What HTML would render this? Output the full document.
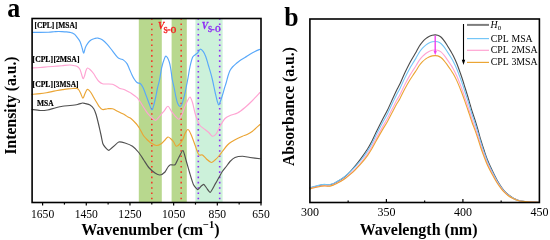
<!DOCTYPE html>
<html><head><meta charset="utf-8"><style>
html,body{margin:0;padding:0;background:#fff;width:550px;height:240px;overflow:hidden}
svg{display:block;font-family:"Liberation Serif",serif;filter:blur(0.35px)}
</style></head><body>
<svg width="550" height="240" viewBox="0 0 550 240">
<rect x="138.8" y="18.5" width="23" height="184" fill="#b8d88e"/>
<rect x="171.6" y="18.5" width="15.2" height="184" fill="#b8d88e"/>
<rect x="195.4" y="18.5" width="27.2" height="184" fill="#ccf1da"/>
<line x1="151.80" y1="18.10" x2="151.80" y2="199.32" stroke="#f23c2c" stroke-width="1.60" stroke-dasharray="1.60 3.683"/>
<line x1="181.20" y1="18.10" x2="181.20" y2="199.32" stroke="#f23c2c" stroke-width="1.60" stroke-dasharray="1.60 3.683"/>
<line x1="198.30" y1="18.10" x2="198.30" y2="199.32" stroke="#8f2cf5" stroke-width="1.60" stroke-dasharray="1.60 3.683"/>
<line x1="219.70" y1="18.10" x2="219.70" y2="199.32" stroke="#8f2cf5" stroke-width="1.60" stroke-dasharray="1.60 3.683"/>
<g fill="none" stroke-width="1.15" stroke-linejoin="round" stroke-linecap="round">
<path d="M32.00,109.50 C32.80,109.60 38.45,110.45 40.00,110.50 C41.55,110.55 46.00,110.25 47.50,110.00 C49.00,109.75 53.50,108.38 55.00,108.00 C56.50,107.62 61.00,106.50 62.50,106.25 C64.00,106.00 68.50,105.67 70.00,105.50 C71.50,105.33 76.25,104.75 77.50,104.50 C78.75,104.25 81.75,103.10 82.50,103.00 C83.25,102.90 84.25,103.30 85.00,103.50 C85.75,103.70 89.12,104.47 90.00,105.00 C90.88,105.53 93.12,107.75 93.75,108.75 C94.38,109.75 95.75,113.38 96.25,115.00 C96.75,116.62 98.28,123.00 98.75,125.00 C99.22,127.00 100.59,133.15 101.00,135.00 C101.41,136.85 102.40,142.30 102.80,143.50 C103.20,144.70 104.41,146.32 105.00,147.00 C105.59,147.68 107.88,150.38 108.75,150.30 C109.62,150.23 112.75,147.08 113.75,146.25 C114.75,145.42 117.62,142.32 118.75,142.00 C119.88,141.68 123.62,142.57 125.00,143.00 C126.38,143.43 131.12,145.30 132.50,146.25 C133.88,147.20 137.62,151.12 138.75,152.50 C139.88,153.88 142.75,158.50 143.75,160.00 C144.75,161.50 147.62,166.20 148.75,167.50 C149.88,168.80 153.88,172.25 155.00,173.00 C156.12,173.75 159.00,175.10 160.00,175.00 C161.00,174.90 164.20,172.80 165.00,172.00 C165.80,171.20 167.45,167.72 168.00,167.00 C168.55,166.28 169.80,165.02 170.50,164.80 C171.20,164.58 174.18,165.53 175.00,164.80 C175.82,164.07 177.95,158.93 178.75,157.50 C179.55,156.07 182.25,150.15 183.00,150.50 C183.75,150.85 185.58,158.75 186.25,161.00 C186.92,163.25 188.98,170.66 189.70,173.00 C190.41,175.34 192.59,182.74 193.40,184.40 C194.21,186.06 196.99,189.41 197.75,189.60 C198.51,189.78 200.40,186.77 201.00,186.25 C201.60,185.73 203.19,184.22 203.75,184.40 C204.31,184.58 205.94,187.21 206.60,188.00 C207.25,188.79 209.46,192.66 210.30,192.30 C211.14,191.94 214.16,185.85 215.00,184.40 C215.84,182.95 218.00,179.12 218.75,177.80 C219.50,176.49 221.75,172.38 222.50,171.25 C223.25,170.12 225.50,167.47 226.25,166.50 C227.00,165.53 229.12,162.40 230.00,161.50 C230.88,160.60 233.75,158.03 235.00,157.50 C236.25,156.97 241.00,156.25 242.50,156.25 C244.00,156.25 248.25,157.25 250.00,157.50 C251.75,157.75 259.00,158.62 260.00,158.75" stroke="#505050" stroke-width="1.15"/>
<path d="M32.00,94.40 C33.33,94.27 37.60,93.88 40.00,93.60 C42.40,93.32 44.40,93.03 46.40,92.70 C48.40,92.37 50.18,91.97 52.00,91.60 C53.82,91.23 55.47,90.83 57.30,90.50 C59.13,90.17 61.18,89.87 63.00,89.60 C64.82,89.33 66.53,89.08 68.20,88.90 C69.87,88.72 71.55,88.58 73.00,88.50 C74.45,88.42 75.98,88.23 76.90,88.40 C77.82,88.57 77.90,88.73 78.50,89.50 C79.10,90.27 79.77,91.55 80.50,93.00 C81.23,94.45 82.18,98.03 82.90,98.20 C83.62,98.37 84.17,95.37 84.80,94.00 C85.43,92.63 86.17,90.75 86.70,90.00 C87.23,89.25 87.37,89.17 88.00,89.50 C88.63,89.83 89.54,90.67 90.50,92.00 C91.46,93.33 92.67,95.67 93.75,97.50 C94.83,99.33 96.12,101.53 97.00,103.00 C97.88,104.47 98.08,105.22 99.00,106.30 C99.92,107.38 101.08,109.09 102.50,109.50 C103.92,109.91 105.83,108.88 107.50,108.75 C109.17,108.62 110.83,108.33 112.50,108.75 C114.17,109.17 116.08,110.54 117.50,111.25 C118.92,111.96 119.75,112.38 121.00,113.00 C122.25,113.62 123.83,114.33 125.00,115.00 C126.17,115.67 126.96,116.38 128.00,117.00 C129.04,117.62 129.88,117.62 131.25,118.75 C132.62,119.88 134.96,122.29 136.25,123.75 C137.54,125.21 138.17,126.21 139.00,127.50 C139.83,128.79 140.46,130.08 141.25,131.50 C142.04,132.92 142.71,134.58 143.75,136.00 C144.79,137.42 146.29,138.83 147.50,140.00 C148.71,141.17 149.54,142.08 151.00,143.00 C152.46,143.92 154.54,145.38 156.25,145.50 C157.96,145.62 159.79,144.67 161.25,143.75 C162.71,142.83 163.88,141.12 165.00,140.00 C166.12,138.88 167.00,137.17 168.00,137.00 C169.00,136.83 170.04,138.17 171.00,139.00 C171.96,139.83 172.88,140.79 173.75,142.00 C174.62,143.21 175.21,145.96 176.25,146.25 C177.29,146.54 178.88,144.96 180.00,143.75 C181.12,142.54 182.17,140.71 183.00,139.00 C183.83,137.29 184.17,135.08 185.00,133.50 C185.83,131.92 186.96,129.25 188.00,129.50 C189.04,129.75 190.08,132.42 191.25,135.00 C192.42,137.58 193.75,141.75 195.00,145.00 C196.25,148.25 197.50,152.83 198.75,154.50 C200.00,156.17 201.25,154.29 202.50,155.00 C203.75,155.71 204.79,157.50 206.25,158.75 C207.71,160.00 209.79,162.29 211.25,162.50 C212.71,162.71 213.75,161.04 215.00,160.00 C216.25,158.96 217.50,157.71 218.75,156.25 C220.00,154.79 221.04,153.12 222.50,151.25 C223.96,149.38 225.83,146.67 227.50,145.00 C229.17,143.33 230.83,142.33 232.50,141.25 C234.17,140.17 235.83,139.33 237.50,138.50 C239.17,137.67 240.92,136.92 242.50,136.25 C244.08,135.58 245.33,135.33 247.00,134.50 C248.67,133.67 250.33,132.92 252.50,131.25 C254.67,129.58 258.75,125.62 260.00,124.50" stroke="#eba534"/>
<path d="M32.00,68.00 C33.33,67.92 37.33,67.70 40.00,67.50 C42.67,67.30 45.50,67.00 48.00,66.80 C50.50,66.60 52.67,66.48 55.00,66.30 C57.33,66.12 59.50,65.92 62.00,65.70 C64.50,65.48 67.83,64.98 70.00,65.00 C72.17,65.02 73.67,65.47 75.00,65.80 C76.33,66.13 77.17,66.38 78.00,67.00 C78.83,67.62 79.42,68.33 80.00,69.50 C80.58,70.67 81.00,72.50 81.50,74.00 C82.00,75.50 82.50,78.17 83.00,78.50 C83.50,78.83 84.00,77.33 84.50,76.00 C85.00,74.67 85.50,71.83 86.00,70.50 C86.50,69.17 86.83,68.17 87.50,68.00 C88.17,67.83 88.96,68.54 90.00,69.50 C91.04,70.46 92.75,72.42 93.75,73.75 C94.75,75.08 95.17,76.25 96.00,77.50 C96.83,78.75 97.67,80.21 98.75,81.25 C99.83,82.29 101.12,83.29 102.50,83.75 C103.88,84.21 105.33,83.91 107.00,84.00 C108.67,84.09 111.00,83.97 112.50,84.30 C114.00,84.63 114.75,85.30 116.00,86.00 C117.25,86.70 118.67,87.92 120.00,88.50 C121.33,89.08 122.67,89.00 124.00,89.50 C125.33,90.00 126.80,90.88 128.00,91.50 C129.20,92.12 130.03,92.45 131.20,93.20 C132.37,93.95 133.87,95.10 135.00,96.00 C136.13,96.90 137.00,97.43 138.00,98.60 C139.00,99.77 139.97,101.38 141.00,103.00 C142.03,104.62 142.98,106.43 144.20,108.30 C145.42,110.17 146.92,112.53 148.30,114.20 C149.68,115.87 151.25,117.28 152.50,118.30 C153.75,119.32 154.55,120.72 155.80,120.30 C157.05,119.88 158.60,117.38 160.00,115.80 C161.40,114.22 162.87,112.38 164.20,110.80 C165.53,109.22 166.75,106.15 168.00,106.30 C169.25,106.45 170.53,110.12 171.70,111.70 C172.87,113.28 173.83,114.55 175.00,115.80 C176.17,117.05 177.58,119.33 178.70,119.20 C179.82,119.07 180.78,116.82 181.70,115.00 C182.62,113.18 183.23,110.67 184.20,108.30 C185.17,105.93 186.53,102.68 187.50,100.80 C188.47,98.92 189.17,96.72 190.00,97.00 C190.83,97.28 191.67,99.83 192.50,102.50 C193.33,105.17 194.17,110.00 195.00,113.00 C195.83,116.00 196.67,118.42 197.50,120.50 C198.33,122.58 198.96,124.15 200.00,125.50 C201.04,126.85 202.29,127.43 203.75,128.60 C205.21,129.77 207.29,131.22 208.75,132.50 C210.21,133.78 211.25,136.04 212.50,136.25 C213.75,136.46 215.00,135.42 216.25,133.75 C217.50,132.08 218.54,128.79 220.00,126.25 C221.46,123.71 223.12,120.38 225.00,118.50 C226.88,116.62 229.17,115.92 231.25,115.00 C233.33,114.08 235.21,114.25 237.50,113.00 C239.79,111.75 242.50,109.58 245.00,107.50 C247.50,105.42 250.00,103.00 252.50,100.50 C255.00,98.00 258.75,93.83 260.00,92.50" stroke="#ffa3d2"/>
<path d="M32.50,32.40 C33.75,32.40 37.35,32.43 40.00,32.40 C42.65,32.37 46.07,32.30 48.40,32.20 C50.73,32.10 52.33,31.92 54.00,31.80 C55.67,31.68 57.07,31.53 58.40,31.50 C59.73,31.47 60.65,31.53 62.00,31.60 C63.35,31.67 65.17,31.77 66.50,31.90 C67.83,32.03 69.08,32.23 70.00,32.40 C70.92,32.57 71.22,32.57 72.00,32.90 C72.78,33.23 73.78,33.58 74.70,34.40 C75.62,35.22 76.58,36.55 77.50,37.80 C78.42,39.05 79.41,40.12 80.20,41.90 C80.99,43.68 81.66,46.63 82.25,48.50 C82.84,50.37 83.22,53.27 83.75,53.10 C84.28,52.93 84.71,49.17 85.40,47.50 C86.09,45.83 86.97,44.35 87.90,43.10 C88.83,41.85 89.86,40.77 91.00,40.00 C92.14,39.23 93.60,38.82 94.75,38.50 C95.90,38.18 96.65,37.89 97.90,38.10 C99.15,38.31 100.69,38.70 102.25,39.75 C103.81,40.80 105.58,42.59 107.25,44.40 C108.92,46.21 110.53,48.43 112.25,50.60 C113.97,52.77 116.18,56.00 117.60,57.40 C119.02,58.80 119.81,58.58 120.75,59.00 C121.69,59.42 122.21,59.13 123.25,59.90 C124.29,60.67 125.96,62.04 127.00,63.60 C128.04,65.16 128.67,67.37 129.50,69.25 C130.33,71.13 131.17,73.19 132.00,74.90 C132.83,76.61 133.67,78.23 134.50,79.50 C135.33,80.77 136.00,81.78 137.00,82.50 C138.00,83.22 139.50,82.97 140.50,83.80 C141.50,84.63 142.25,86.05 143.00,87.50 C143.75,88.95 144.03,89.97 145.00,92.50 C145.97,95.03 147.68,99.83 148.80,102.70 C149.92,105.57 150.92,109.15 151.70,109.70 C152.48,110.25 152.87,107.95 153.50,106.00 C154.13,104.05 154.83,101.00 155.50,98.00 C156.17,95.00 156.82,91.05 157.50,88.00 C158.18,84.95 158.90,83.12 159.60,79.70 C160.30,76.28 160.93,70.92 161.70,67.50 C162.47,64.08 163.45,61.08 164.20,59.20 C164.95,57.32 165.37,55.78 166.20,56.20 C167.03,56.62 168.43,59.53 169.20,61.70 C169.97,63.87 170.28,66.20 170.80,69.20 C171.32,72.20 171.73,76.57 172.30,79.70 C172.87,82.83 173.62,85.23 174.20,88.00 C174.78,90.77 175.25,93.80 175.80,96.30 C176.35,98.80 176.85,101.33 177.50,103.00 C178.15,104.67 179.00,106.02 179.70,106.30 C180.40,106.58 181.10,105.80 181.70,104.70 C182.30,103.60 182.75,101.65 183.30,99.70 C183.85,97.75 184.43,95.50 185.00,93.00 C185.57,90.50 186.20,87.20 186.70,84.70 C187.20,82.20 187.45,81.00 188.00,78.00 C188.55,75.00 189.25,70.12 190.00,66.70 C190.75,63.28 191.67,59.45 192.50,57.50 C193.33,55.55 194.08,55.83 195.00,55.00 C195.92,54.17 197.12,53.47 198.00,52.50 C198.88,51.53 199.42,49.33 200.30,49.20 C201.18,49.07 202.38,50.45 203.30,51.70 C204.22,52.95 204.97,54.48 205.80,56.70 C206.63,58.92 207.47,62.23 208.30,65.00 C209.13,67.77 210.10,70.80 210.80,73.30 C211.50,75.80 211.97,77.72 212.50,80.00 C213.03,82.28 213.50,84.67 214.00,87.00 C214.50,89.33 214.97,91.67 215.50,94.00 C216.03,96.33 216.66,99.17 217.20,101.00 C217.74,102.83 218.20,105.00 218.75,105.00 C219.30,105.00 219.88,102.67 220.50,101.00 C221.12,99.33 221.83,97.17 222.50,95.00 C223.17,92.83 223.88,90.08 224.50,88.00 C225.12,85.92 225.67,84.50 226.25,82.50 C226.83,80.50 227.38,78.00 228.00,76.00 C228.62,74.00 229.25,72.00 230.00,70.50 C230.75,69.00 231.46,68.17 232.50,67.00 C233.54,65.83 235.00,64.58 236.25,63.50 C237.50,62.42 238.54,61.50 240.00,60.50 C241.46,59.50 243.33,58.54 245.00,57.50 C246.67,56.46 248.33,55.25 250.00,54.25 C251.67,53.25 253.33,52.33 255.00,51.50 C256.67,50.67 259.17,49.62 260.00,49.25" stroke="#58a8fa"/>
</g>
<rect x="32.1" y="18.5" width="228.9" height="184" fill="none" stroke="#000" stroke-width="1.6"/>
<line x1="261.00" y1="202.5" x2="261.00" y2="205.60" stroke="#000" stroke-width="1.2"/><line x1="239.16" y1="202.5" x2="239.16" y2="204.60" stroke="#000" stroke-width="1.2"/><line x1="217.32" y1="202.5" x2="217.32" y2="205.60" stroke="#000" stroke-width="1.2"/><line x1="195.48" y1="202.5" x2="195.48" y2="204.60" stroke="#000" stroke-width="1.2"/><line x1="173.64" y1="202.5" x2="173.64" y2="205.60" stroke="#000" stroke-width="1.2"/><line x1="151.80" y1="202.5" x2="151.80" y2="204.60" stroke="#000" stroke-width="1.2"/><line x1="129.96" y1="202.5" x2="129.96" y2="205.60" stroke="#000" stroke-width="1.2"/><line x1="108.12" y1="202.5" x2="108.12" y2="204.60" stroke="#000" stroke-width="1.2"/><line x1="86.28" y1="202.5" x2="86.28" y2="205.60" stroke="#000" stroke-width="1.2"/><line x1="64.44" y1="202.5" x2="64.44" y2="204.60" stroke="#000" stroke-width="1.2"/><line x1="42.60" y1="202.5" x2="42.60" y2="205.60" stroke="#000" stroke-width="1.2"/>
<g font-family="Liberation Serif" font-size="11.6" fill="#000"><text x="42.60" y="217.6" text-anchor="middle">1650</text><text x="86.28" y="217.6" text-anchor="middle">1450</text><text x="129.96" y="217.6" text-anchor="middle">1250</text><text x="173.64" y="217.6" text-anchor="middle">1050</text><text x="217.32" y="217.6" text-anchor="middle">850</text><text x="261.00" y="217.6" text-anchor="middle">650</text></g>
<g fill="none" stroke-width="1.1" stroke-linejoin="round" stroke-linecap="round">
<path d="M310.00,187.90 C310.67,187.71 312.25,187.20 314.00,186.75 C315.75,186.30 318.79,185.56 320.50,185.21 C322.21,184.86 323.00,184.67 324.25,184.63 C325.50,184.60 326.75,185.07 328.00,185.02 C329.25,184.97 330.50,184.75 331.75,184.35 C333.00,183.95 334.04,183.37 335.50,182.62 C336.96,181.86 338.83,180.91 340.50,179.83 C342.17,178.75 343.83,177.57 345.50,176.14 C347.17,174.71 348.92,172.91 350.50,171.26 C352.08,169.60 353.21,168.41 355.00,166.22 C356.79,164.03 359.17,160.96 361.25,158.09 C363.33,155.22 365.71,151.85 367.50,149.00 C369.29,146.15 370.42,144.08 372.00,141.00 C373.58,137.92 375.33,133.92 377.00,130.50 C378.67,127.08 380.25,123.92 382.00,120.50 C383.75,117.08 385.67,113.75 387.50,110.00 C389.33,106.25 391.50,101.25 393.00,98.00 C394.50,94.75 395.33,92.88 396.50,90.50 C397.67,88.12 398.58,86.75 400.00,83.75 C401.42,80.75 403.33,76.04 405.00,72.50 C406.67,68.96 408.67,65.03 410.00,62.50 C411.33,59.97 412.00,59.02 413.00,57.30 C414.00,55.58 414.96,54.04 416.00,52.20 C417.04,50.36 418.17,47.97 419.25,46.25 C420.33,44.53 421.42,43.16 422.50,41.90 C423.58,40.64 424.67,39.60 425.75,38.70 C426.83,37.80 427.92,37.08 429.00,36.50 C430.08,35.92 431.25,35.47 432.25,35.20 C433.25,34.93 434.09,34.90 435.00,34.90 C435.91,34.90 436.72,34.85 437.70,35.20 C438.68,35.55 439.82,36.07 440.90,37.00 C441.98,37.93 443.12,39.35 444.20,40.80 C445.28,42.25 446.32,43.98 447.40,45.70 C448.48,47.42 449.70,49.38 450.70,51.10 C451.70,52.82 452.37,53.89 453.40,56.00 C454.43,58.11 455.75,60.92 456.90,63.75 C458.05,66.58 459.28,70.12 460.30,73.00 C461.32,75.88 462.22,78.58 463.00,81.00 C463.78,83.42 464.15,84.75 465.00,87.50 C465.85,90.25 467.23,94.58 468.10,97.50 C468.98,100.42 469.60,102.75 470.25,105.00 C470.90,107.25 471.21,108.50 472.00,111.00 C472.79,113.50 474.00,116.83 475.00,120.00 C476.00,123.17 477.03,126.67 478.00,130.00 C478.97,133.33 479.80,136.67 480.80,140.00 C481.80,143.33 482.88,146.67 484.00,150.00 C485.12,153.33 486.17,156.67 487.50,160.00 C488.83,163.33 490.42,166.67 492.00,170.00 C493.58,173.33 495.50,177.25 497.00,180.00 C498.50,182.75 499.83,184.75 501.00,186.50 C502.17,188.25 502.83,189.17 504.00,190.50 C505.17,191.83 506.50,193.25 508.00,194.50 C509.50,195.75 511.33,197.03 513.00,198.00 C514.67,198.97 516.00,199.70 518.00,200.30 C520.00,200.90 522.17,201.30 525.00,201.60 C527.83,201.90 532.67,202.00 535.00,202.10 C537.33,202.20 538.33,202.18 539.00,202.20" stroke="#4a4a4a"/>
<path d="M310.00,187.60 C310.67,187.41 312.25,186.90 314.00,186.45 C315.75,186.00 318.79,185.26 320.50,184.91 C322.21,184.56 323.00,184.37 324.25,184.33 C325.50,184.30 326.75,184.77 328.00,184.72 C329.25,184.67 330.50,184.45 331.75,184.05 C333.00,183.65 334.04,183.07 335.50,182.32 C336.96,181.56 338.83,180.60 340.50,179.53 C342.17,178.46 343.83,177.23 345.50,175.88 C347.17,174.54 348.92,172.95 350.50,171.46 C352.08,169.97 353.21,168.90 355.00,166.95 C356.79,164.99 359.17,162.39 361.25,159.74 C363.33,157.10 365.71,153.82 367.50,151.10 C369.29,148.38 370.42,146.38 372.00,143.41 C373.58,140.45 375.33,136.61 377.00,133.33 C378.67,130.05 380.25,127.00 382.00,123.72 C383.75,120.44 385.67,117.24 387.50,113.64 C389.33,110.04 391.50,105.23 393.00,102.11 C394.50,98.99 395.33,97.19 396.50,94.91 C397.67,92.63 398.58,91.30 400.00,88.42 C401.42,85.54 403.33,81.02 405.00,77.62 C406.67,74.21 408.67,70.44 410.00,68.01 C411.33,65.58 412.00,64.67 413.00,63.02 C414.00,61.37 414.96,59.89 416.00,58.12 C417.04,56.35 418.17,54.05 419.25,52.40 C420.33,50.75 421.42,49.43 422.50,48.22 C423.58,47.02 424.67,46.01 425.75,45.15 C426.83,44.29 427.92,43.60 429.00,43.04 C430.08,42.48 431.25,42.04 432.25,41.79 C433.25,41.53 434.09,41.50 435.00,41.50 C435.91,41.50 436.72,41.45 437.70,41.79 C438.68,42.12 439.82,42.62 440.90,43.52 C441.98,44.41 443.12,45.77 444.20,47.17 C445.28,48.56 446.32,50.22 447.40,51.87 C448.48,53.52 449.70,55.41 450.70,57.06 C451.70,58.71 452.37,59.74 453.40,61.77 C454.43,63.79 455.75,66.49 456.90,69.21 C458.05,71.93 459.28,75.34 460.30,78.10 C461.32,80.86 462.22,83.46 463.00,85.78 C463.78,88.10 464.15,89.38 465.00,92.02 C465.85,94.67 467.23,98.83 468.10,101.63 C468.98,104.43 469.60,106.67 470.25,108.83 C470.90,111.00 471.21,112.20 472.00,114.60 C472.79,117.00 474.00,120.20 475.00,123.24 C476.00,126.28 477.03,129.65 478.00,132.85 C478.97,136.05 479.80,139.25 480.80,142.45 C481.80,145.66 482.88,148.86 484.00,152.06 C485.12,155.26 486.17,158.46 487.50,161.66 C488.83,164.87 490.42,168.07 492.00,171.27 C493.58,174.47 495.50,178.23 497.00,180.88 C498.50,183.52 499.83,185.44 501.00,187.12 C502.17,188.80 502.83,189.68 504.00,190.96 C505.17,192.24 506.50,193.60 508.00,194.80 C509.50,196.00 511.33,197.24 513.00,198.17 C514.67,199.09 516.00,199.80 518.00,200.37 C520.00,200.95 522.17,201.34 525.00,201.62 C527.83,201.91 532.67,202.01 535.00,202.10 C537.33,202.20 538.33,202.18 539.00,202.20" stroke="#74c6f7"/>
<path d="M310.00,188.68 C310.67,188.51 312.25,188.04 314.00,187.63 C315.75,187.22 318.79,186.55 320.50,186.23 C322.21,185.91 323.00,185.73 324.25,185.70 C325.50,185.67 326.75,186.10 328.00,186.05 C329.25,186.01 330.50,185.80 331.75,185.44 C333.00,185.07 334.04,184.55 335.50,183.86 C336.96,183.17 338.83,182.30 340.50,181.32 C342.17,180.34 343.83,179.24 345.50,177.97 C347.17,176.71 348.92,175.16 350.50,173.72 C352.08,172.28 353.21,171.24 355.00,169.33 C356.79,167.41 359.17,164.82 361.25,162.23 C363.33,159.64 365.71,156.42 367.50,153.80 C369.29,151.18 370.42,149.33 372.00,146.52 C373.58,143.72 375.33,140.08 377.00,136.97 C378.67,133.86 380.25,130.98 382.00,127.87 C383.75,124.77 385.67,121.73 387.50,118.32 C389.33,114.91 391.50,110.36 393.00,107.40 C394.50,104.45 395.33,102.74 396.50,100.58 C397.67,98.42 398.58,97.17 400.00,94.44 C401.42,91.71 403.33,87.43 405.00,84.21 C406.67,80.98 408.67,77.41 410.00,75.11 C411.33,72.80 412.00,71.94 413.00,70.38 C414.00,68.82 414.96,67.41 416.00,65.74 C417.04,64.06 418.17,61.89 419.25,60.33 C420.33,58.76 421.42,57.51 422.50,56.37 C423.58,55.22 424.67,54.28 425.75,53.46 C426.83,52.64 427.92,51.99 429.00,51.46 C430.08,50.92 431.25,50.52 432.25,50.27 C433.25,50.03 434.09,50.00 435.00,50.00 C435.91,50.00 436.72,49.95 437.70,50.27 C438.68,50.59 439.82,51.06 440.90,51.91 C441.98,52.76 443.12,54.05 444.20,55.37 C445.28,56.69 446.32,58.26 447.40,59.83 C448.48,61.39 449.70,63.18 450.70,64.74 C451.70,66.30 452.37,67.28 453.40,69.20 C454.43,71.11 455.75,73.67 456.90,76.25 C458.05,78.82 459.28,82.05 460.30,84.66 C461.32,87.28 462.22,89.74 463.00,91.94 C463.78,94.14 464.15,95.35 465.00,97.85 C465.85,100.35 467.23,104.30 468.10,106.95 C468.98,109.60 469.60,111.73 470.25,113.77 C470.90,115.82 471.21,116.96 472.00,119.23 C472.79,121.51 474.00,124.54 475.00,127.42 C476.00,130.30 477.03,133.48 478.00,136.52 C478.97,139.55 479.80,142.58 480.80,145.61 C481.80,148.65 482.88,151.68 484.00,154.71 C485.12,157.74 486.17,160.78 487.50,163.81 C488.83,166.84 490.42,169.87 492.00,172.91 C493.58,175.94 495.50,179.50 497.00,182.00 C498.50,184.51 499.83,186.32 501.00,187.92 C502.17,189.51 502.83,190.34 504.00,191.56 C505.17,192.77 506.50,194.06 508.00,195.19 C509.50,196.33 511.33,197.50 513.00,198.38 C514.67,199.26 516.00,199.93 518.00,200.47 C520.00,201.02 522.17,201.38 525.00,201.65 C527.83,201.93 532.67,202.02 535.00,202.11 C537.33,202.20 538.33,202.18 539.00,202.20" stroke="#ffa3d2"/>
<path d="M310.00,188.88 C310.67,188.71 312.25,188.24 314.00,187.83 C315.75,187.42 318.79,186.75 320.50,186.43 C322.21,186.11 323.00,185.93 324.25,185.90 C325.50,185.87 326.75,186.30 328.00,186.25 C329.25,186.21 330.50,186.00 331.75,185.64 C333.00,185.27 334.04,184.75 335.50,184.06 C336.96,183.37 338.83,182.50 340.50,181.52 C342.17,180.54 343.83,179.42 345.50,178.19 C347.17,176.96 348.92,175.52 350.50,174.16 C352.08,172.80 353.21,171.82 355.00,170.04 C356.79,168.26 359.17,165.88 361.25,163.47 C363.33,161.06 365.71,158.07 367.50,155.58 C369.29,153.10 370.42,151.27 372.00,148.57 C373.58,145.87 375.33,142.37 377.00,139.37 C378.67,136.38 380.25,133.60 382.00,130.61 C383.75,127.61 385.67,124.69 387.50,121.41 C389.33,118.12 391.50,113.74 393.00,110.89 C394.50,108.04 395.33,106.40 396.50,104.32 C397.67,102.24 398.58,101.03 400.00,98.41 C401.42,95.78 403.33,91.65 405.00,88.55 C406.67,85.44 408.67,82.00 410.00,79.79 C411.33,77.57 412.00,76.73 413.00,75.23 C414.00,73.72 414.96,72.37 416.00,70.76 C417.04,69.15 418.17,67.05 419.25,65.55 C420.33,64.04 421.42,62.84 422.50,61.73 C423.58,60.63 424.67,59.72 425.75,58.93 C426.83,58.14 427.92,57.51 429.00,57.00 C430.08,56.49 431.25,56.10 432.25,55.86 C433.25,55.63 434.09,55.60 435.00,55.60 C435.91,55.60 436.72,55.56 437.70,55.86 C438.68,56.17 439.82,56.62 440.90,57.44 C441.98,58.26 443.12,59.50 444.20,60.77 C445.28,62.04 446.32,63.56 447.40,65.06 C448.48,66.57 449.70,68.29 450.70,69.80 C451.70,71.30 452.37,72.24 453.40,74.09 C454.43,75.94 455.75,78.40 456.90,80.88 C458.05,83.36 459.28,86.47 460.30,88.99 C461.32,91.51 462.22,93.88 463.00,96.00 C463.78,98.11 464.15,99.28 465.00,101.69 C465.85,104.10 467.23,107.90 468.10,110.45 C468.98,113.01 469.60,115.05 470.25,117.03 C470.90,119.00 471.21,120.09 472.00,122.28 C472.79,124.47 474.00,127.40 475.00,130.17 C476.00,132.95 477.03,136.01 478.00,138.93 C478.97,141.85 479.80,144.78 480.80,147.70 C481.80,150.62 482.88,153.54 484.00,156.46 C485.12,159.38 486.17,162.30 487.50,165.22 C488.83,168.14 490.42,171.06 492.00,173.98 C493.58,176.91 495.50,180.34 497.00,182.75 C498.50,185.16 499.83,186.91 501.00,188.44 C502.17,189.98 502.83,190.78 504.00,191.95 C505.17,193.12 506.50,194.36 508.00,195.45 C509.50,196.55 511.33,197.67 513.00,198.52 C514.67,199.37 516.00,200.01 518.00,200.54 C520.00,201.06 522.17,201.41 525.00,201.67 C527.83,201.94 532.67,202.02 535.00,202.11 C537.33,202.20 538.33,202.19 539.00,202.20" stroke="#eba534"/>
</g>
<rect x="309.9" y="19" width="229.5" height="183.5" fill="none" stroke="#000" stroke-width="1.6"/>
<line x1="348.15" y1="202.5" x2="348.15" y2="200.50" stroke="#000" stroke-width="1.2"/><line x1="386.40" y1="202.5" x2="386.40" y2="199.00" stroke="#000" stroke-width="1.2"/><line x1="424.65" y1="202.5" x2="424.65" y2="200.50" stroke="#000" stroke-width="1.2"/><line x1="462.90" y1="202.5" x2="462.90" y2="199.00" stroke="#000" stroke-width="1.2"/><line x1="501.15" y1="202.5" x2="501.15" y2="200.50" stroke="#000" stroke-width="1.2"/>
<g font-family="Liberation Serif" font-size="12" fill="#000"><text x="309.90" y="216.3" text-anchor="middle">300</text><text x="386.40" y="216.3" text-anchor="middle">350</text><text x="462.90" y="216.3" text-anchor="middle">400</text><text x="539.40" y="216.3" text-anchor="middle">450</text></g>
<line x1="435.2" y1="35.4" x2="435.2" y2="52" stroke="#f040f0" stroke-width="1.4"/>
<path d="M433.6,51 L436.8,51 L435.2,55.3 Z" fill="#f040f0"/>
<line x1="463.5" y1="24" x2="463.5" y2="61" stroke="#000" stroke-width="1.1"/>
<path d="M461.8,59.8 L465.2,59.8 L463.5,65 Z" fill="#000"/>
<line x1="467" y1="24.9" x2="489" y2="24.9" stroke="#7d7d7d" stroke-width="2"/>
<line x1="467" y1="38.6" x2="489" y2="38.6" stroke="#74c6f7" stroke-width="1.2"/>
<line x1="467" y1="50.3" x2="489" y2="50.3" stroke="#ffa3d2" stroke-width="1.2"/>
<line x1="467" y1="62.4" x2="489" y2="62.4" stroke="#eba534" stroke-width="1.2"/>
<g font-family="Liberation Serif" font-size="9.8" fill="#000" word-spacing="0.6"><text x="490.6" y="27.9"><tspan font-style="italic">H</tspan><tspan font-size="7" dy="2.3">0</tspan></text><text x="490.8" y="42">CPL MSA</text><text x="490.8" y="53.4">CPL 2MSA</text><text x="490.8" y="65.3">CPL 3MSA</text></g>
<g font-family="Liberation Serif" font-weight="bold" font-size="8.2" fill="#000" stroke="#000" stroke-width="0.2"><text x="34.40" y="27.70" textLength="19.90" lengthAdjust="spacingAndGlyphs">[CPL]</text><text x="55.70" y="27.70" textLength="21.60" lengthAdjust="spacingAndGlyphs">[MSA]</text><text x="32.60" y="62.20" textLength="20.40" lengthAdjust="spacingAndGlyphs">[CPL]</text><text x="53.40" y="62.20" textLength="26.10" lengthAdjust="spacingAndGlyphs">[2MSA]</text><text x="32.60" y="86.60" textLength="20.40" lengthAdjust="spacingAndGlyphs">[CPL]</text><text x="53.40" y="86.60" textLength="25.20" lengthAdjust="spacingAndGlyphs">[3MSA]</text><text x="37.00" y="106.20" textLength="16.60" lengthAdjust="spacingAndGlyphs">MSA</text></g>
<g font-family="Liberation Serif" font-weight="bold" stroke-width="0.3" stroke-linejoin="round"><text x="158" y="28.7" fill="#f52222" stroke="#f52222" font-size="9.4" font-style="italic">V</text><text y="32.5" fill="#f52222" stroke="#f52222" font-size="7.5"><tspan x="163.4">S</tspan><tspan x="170.6">O</tspan></text><rect x="167.3" y="29.3" width="2.9" height="1.3" fill="#f52222"/><text x="201.8" y="28.6" fill="#8f2cf5" stroke="#8f2cf5" font-size="9.4" font-style="italic">V</text><text y="32.2" fill="#8f2cf5" stroke="#8f2cf5" font-size="7.3"><tspan x="207.9">S</tspan><tspan x="214.9">O</tspan></text><rect x="211.6" y="29.1" width="2.9" height="1.2" fill="#8f2cf5"/></g>
<text transform="translate(7.3,16.9) scale(0.93,0.95)" font-family="Liberation Serif" font-weight="bold" font-size="28">a</text>
<text transform="translate(284.3,25.6) scale(0.92,0.98)" font-family="Liberation Serif" font-weight="bold" font-size="28">b</text>
<text x="150.4" y="235.4" text-anchor="middle" font-family="Liberation Serif" font-weight="bold" font-size="16">Wavenumber (cm<tspan font-size="10.5" dy="-7.2">−1</tspan><tspan dy="7.2">)</tspan></text>
<text x="418.6" y="234.7" text-anchor="middle" font-family="Liberation Serif" font-weight="bold" font-size="16">Wavelength (nm)</text>
<text transform="translate(15.5,105.5) rotate(-90)" text-anchor="middle" font-family="Liberation Serif" font-weight="bold" font-size="15.7">Intensity (a.u.)</text>
<text transform="translate(294.3,106.5) rotate(-90)" text-anchor="middle" font-family="Liberation Serif" font-weight="bold" font-size="15.7">Absorbance (a.u.)</text>
</svg>
</body></html>
